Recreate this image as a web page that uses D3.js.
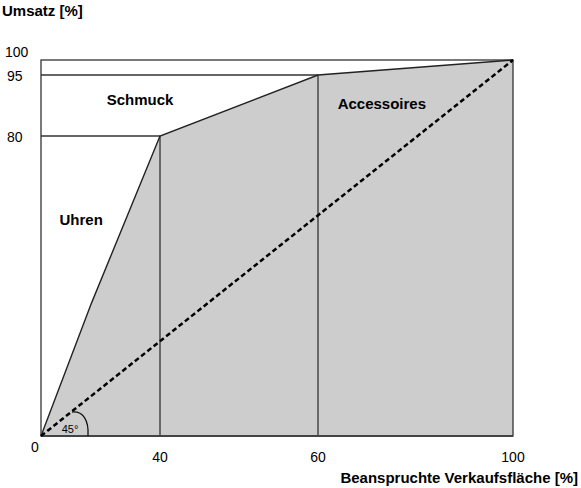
<!DOCTYPE html>
<html>
<head>
<meta charset="utf-8">
<script src="https://cdn.jsdelivr.net/npm/d3@7"></script>
<style>
  body { margin: 0; background: #fff; }
  svg { font-family: "Liberation Sans", Arial, sans-serif; }
</style>
</head>
<body>
<svg id="chart" width="581" height="488"></svg>
<script>
// cumulative share of sales area vs. cumulative share of turnover
const curveArea = [0, 17, 40, 60, 100];
const curveSales = [0, 35.5, 80, 95, 100];
// category boundaries (end points of each segment)
const categories = ["Uhren", "Schmuck", "Accessoires"];
const catArea = [40, 60, 100];
const catSales = [80, 95, 100];
const xTicks = [0, 40, 60, 100];
const yTicks = [80, 95, 100];

const svg = d3.select("#chart");

// schematic axes are not proportional, so piecewise scales
const x = d3.scaleLinear().domain([0, 40, 60, 100]).range([41, 160, 318, 513]);
const y = d3.scaleLinear().domain([0, 80, 95, 100]).range([436, 136, 75, 60]);

const pts = curveArea.map((a, i) => [a, curveSales[i]]);
const lineColor = "#333";

// gray area under the curve
const area = d3.area()
    .x(d => x(d[0]))
    .y0(y(0))
    .y1(d => y(d[1]));
svg.append("path")
    .datum(pts)
    .attr("d", area)
    .attr("fill", "#cdcdcd");

// frame
svg.append("rect")
    .attr("x", x(0))
    .attr("y", y(100))
    .attr("width", x(100) - x(0))
    .attr("height", y(0) - y(100))
    .attr("fill", "none")
    .attr("stroke", lineColor)
    .attr("stroke-width", 1.3);

// horizontal and vertical guides at each category boundary
catArea.slice(0, 2).forEach((a, i) => {
    const s = catSales[i];
    svg.append("line")
        .attr("x1", x(0)).attr("x2", x(a))
        .attr("y1", y(s)).attr("y2", y(s))
        .attr("stroke", lineColor).attr("stroke-width", 1.3);
    svg.append("line")
        .attr("x1", x(a)).attr("x2", x(a))
        .attr("y1", y(s)).attr("y2", y(0))
        .attr("stroke", lineColor).attr("stroke-width", 1.3);
});

// the curve
svg.append("path")
    .datum(pts)
    .attr("d", d3.line().x(d => x(d[0])).y(d => y(d[1])))
    .attr("fill", "none")
    .attr("stroke", "#222")
    .attr("stroke-width", 1.4);

// bottom line a bit heavier
svg.append("line")
    .attr("x1", x(0)).attr("x2", x(100))
    .attr("y1", y(0)).attr("y2", y(0))
    .attr("stroke", "#444").attr("stroke-width", 2);

// 45 degree diagonal
svg.append("line")
    .attr("x1", x(0)).attr("y1", y(0))
    .attr("x2", x(100)).attr("y2", y(100))
    .attr("stroke", "#000")
    .attr("stroke-width", 2.5)
    .attr("stroke-dasharray", "5,3");

// angle marker
const ox = x(0), oy = y(0);
svg.append("path")
    .attr("d", `M${ox + 31},${oy - 24} C${ox + 42},${oy - 25} ${ox + 48},${oy - 16} ${ox + 47},${oy}`)
    .attr("fill", "none")
    .attr("stroke", "#111")
    .attr("stroke-width", 1.3);
svg.append("text")
    .attr("x", ox + 29).attr("y", oy - 3)
    .attr("text-anchor", "middle")
    .attr("font-size", 11)
    .text("45°");

// tick labels
svg.selectAll(".xt")
    .data(xTicks)
    .enter().append("text")
    .attr("x", d => x(d) - (d === 0 ? 6 : 0))
    .attr("y", d => d === 0 ? 452 : 462)
    .attr("text-anchor", "middle")
    .attr("font-size", 14)
    .text(d => d);

svg.selectAll(".yt")
    .data(yTicks)
    .enter().append("text")
    .attr("x", d => d === 100 ? 5 : 7)
    .attr("y", d => y(d) + (d === 100 ? -3 : 6))
    .attr("font-size", 14)
    .text(d => d);

// axis titles
svg.append("text")
    .attr("x", 2).attr("y", 16)
    .attr("font-size", 15).attr("font-weight", "bold")
    .text("Umsatz [%]");
svg.append("text")
    .attr("x", 578).attr("y", 483)
    .attr("text-anchor", "end")
    .attr("font-size", 15).attr("font-weight", "bold")
    .text("Beanspruchte Verkaufsfläche [%]");

// category labels
const labelPos = [[13.5, 56.3], [33.3, 87.6], [73.1, 86.6]];
svg.selectAll(".cat")
    .data(categories)
    .enter().append("text")
    .attr("x", (d, i) => x(labelPos[i][0]))
    .attr("y", (d, i) => y(labelPos[i][1]))
    .attr("text-anchor", "middle")
    .attr("font-size", 15).attr("font-weight", "bold")
    .text(d => d);
</script>
</body>
</html>
